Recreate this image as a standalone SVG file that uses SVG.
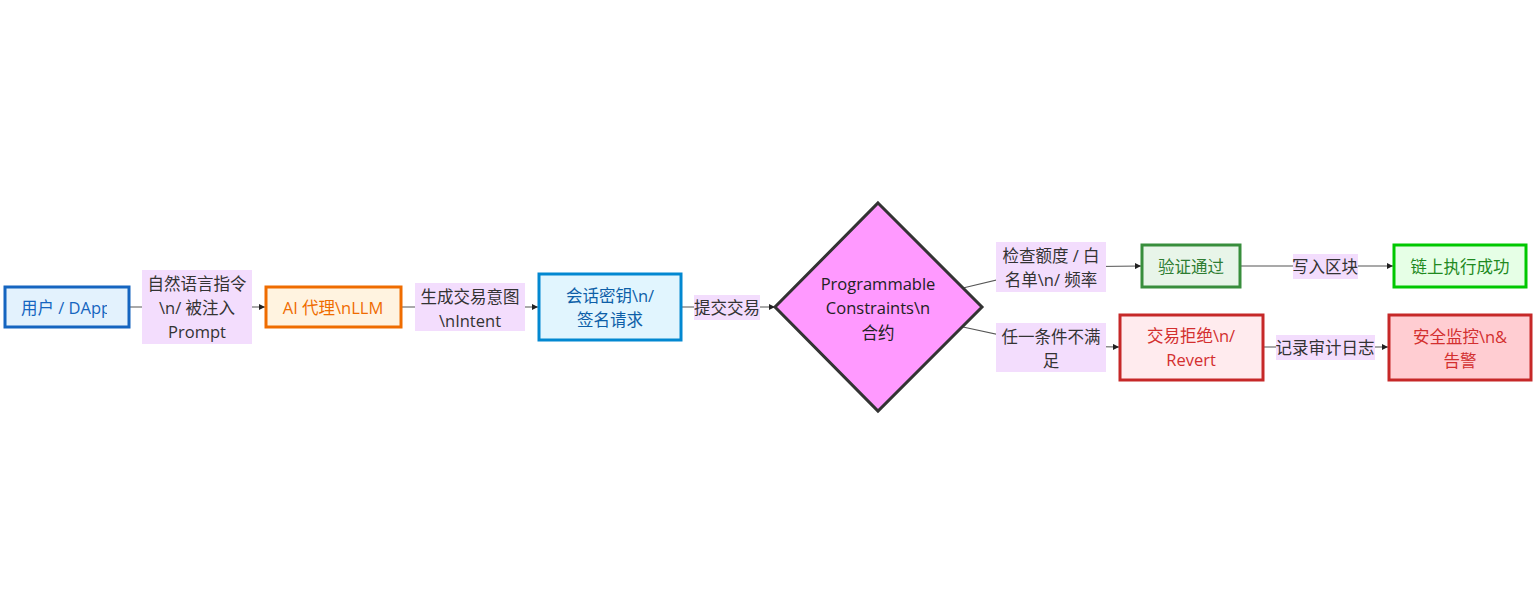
<svg xmlns="http://www.w3.org/2000/svg" width="1536" height="614" viewBox="0 0 1536 614">
<defs>
<marker id="arr" viewBox="0 0 10 10" refX="10" refY="5" markerWidth="6" markerHeight="6" orient="auto" markerUnits="userSpaceOnUse"><path d="M0,0 L10,5 L0,10 z" fill="#222"/></marker>
<clipPath id="c1"><rect x="6" y="289" width="101" height="36"/></clipPath>
<style>
text{font-family:"Open Sans","Noto Sans CJK SC",sans-serif;font-size:16.5px;text-anchor:middle;dominant-baseline:central}
.edge{fill:none;stroke:#555;stroke-width:1.2}
.lbg{fill:#f3ddfd}
.lt{fill:#333}
</style>
</defs>
<rect width="1536" height="614" fill="#fff"/>
<g id="connectors">
<path class="edge" d="M129,307 L265,307" marker-end="url(#arr)"/>
<path class="edge" d="M401,307 L538,307" marker-end="url(#arr)"/>
<path class="edge" d="M681,307 L775,307" marker-end="url(#arr)"/>
<path class="edge" d="M963,288 L1051,267 L1141,266" marker-end="url(#arr)"/>
<path class="edge" d="M963,327 L1051,346 L1119,347" marker-end="url(#arr)"/>
<path class="edge" d="M1240,266 L1393,266" marker-end="url(#arr)"/>
<path class="edge" d="M1263,347 L1388,347" marker-end="url(#arr)"/>
<rect class="lbg" x="142" y="270" width="110" height="74"/>
<text class="lt" x="197" y="283">自然语言指令</text>
<text class="lt" x="197" y="307">\n/ 被注入</text>
<text class="lt" x="197" y="331">Prompt</text>
<rect class="lbg" x="415" y="283" width="110" height="48"/>
<text class="lt" x="470" y="296">生成交易意图</text>
<text class="lt" x="470" y="320">\nIntent</text>
<rect class="lbg" x="694" y="295" width="66" height="25"/>
<text class="lt" x="727" y="307">提交交易</text>
<rect class="lbg" x="996" y="242" width="110" height="50"/>
<text class="lt" x="1051" y="255">检查额度 / 白</text>
<text class="lt" x="1051" y="279">名单\n/ 频率</text>
<rect class="lbg" x="996" y="323" width="110" height="49"/>
<text class="lt" x="1051" y="336">任一条件不满</text>
<text class="lt" x="1051" y="360">足</text>
<rect class="lbg" x="1293" y="254" width="65" height="25"/>
<text class="lt" x="1325" y="266">写入区块</text>
<rect class="lbg" x="1276" y="335" width="99" height="25"/>
<text class="lt" x="1325" y="347">记录审计日志</text>
</g>
<g id="user">
<rect x="5" y="287" width="124" height="40" fill="#e3f2fd" stroke="#1565c0" stroke-width="3"/>
<text x="21" y="307" fill="#1565c0" clip-path="url(#c1)" style="text-anchor:start">用户 / DApp</text>
</g>
<g id="agent">
<rect x="266" y="287" width="135" height="40" fill="#fff3e0" stroke="#ef6c00" stroke-width="3"/>
<text x="333" y="307" fill="#ef6c00">AI 代理\nLLM</text>
</g>
<g id="session">
<rect x="539" y="274" width="142" height="66" fill="#e1f5fe" stroke="#0288d1" stroke-width="3"/>
<text x="610" y="295" fill="#0d5fa8">会话密钥\n/</text>
<text x="610" y="319" fill="#0d5fa8">签名请求</text>
</g>
<g id="contract">
<polygon points="878,203 982,307 878,411 775,307" fill="#ff99ff" stroke="#333" stroke-width="3"/>
<text x="878" y="283" fill="#222">Programmable</text>
<text x="878" y="307" fill="#222">Constraints\n</text>
<text x="878" y="332" fill="#222">合约</text>
</g>
<g id="pass">
<rect x="1142" y="245" width="98" height="42" fill="#e8f5e9" stroke="#388e3c" stroke-width="3"/>
<text x="1191" y="266" fill="#2e7d32">验证通过</text>
</g>
<g id="success">
<rect x="1394" y="245" width="132" height="42" fill="#e6ffe6" stroke="#00c800" stroke-width="3"/>
<text x="1460" y="266" fill="#1f8a1f">链上执行成功</text>
</g>
<g id="reject">
<rect x="1120" y="315" width="143" height="65" fill="#ffebee" stroke="#c62828" stroke-width="3"/>
<text x="1191" y="335" fill="#d32f2f">交易拒绝\n/</text>
<text x="1191" y="359" fill="#d32f2f">Revert</text>
</g>
<g id="monitor">
<rect x="1389" y="315" width="142" height="65" fill="#ffcdd2" stroke="#c62828" stroke-width="3"/>
<text x="1460" y="336" fill="#d32f2f">安全监控\n&amp;</text>
<text x="1460" y="360" fill="#d32f2f">告警</text>
</g>
</svg>
